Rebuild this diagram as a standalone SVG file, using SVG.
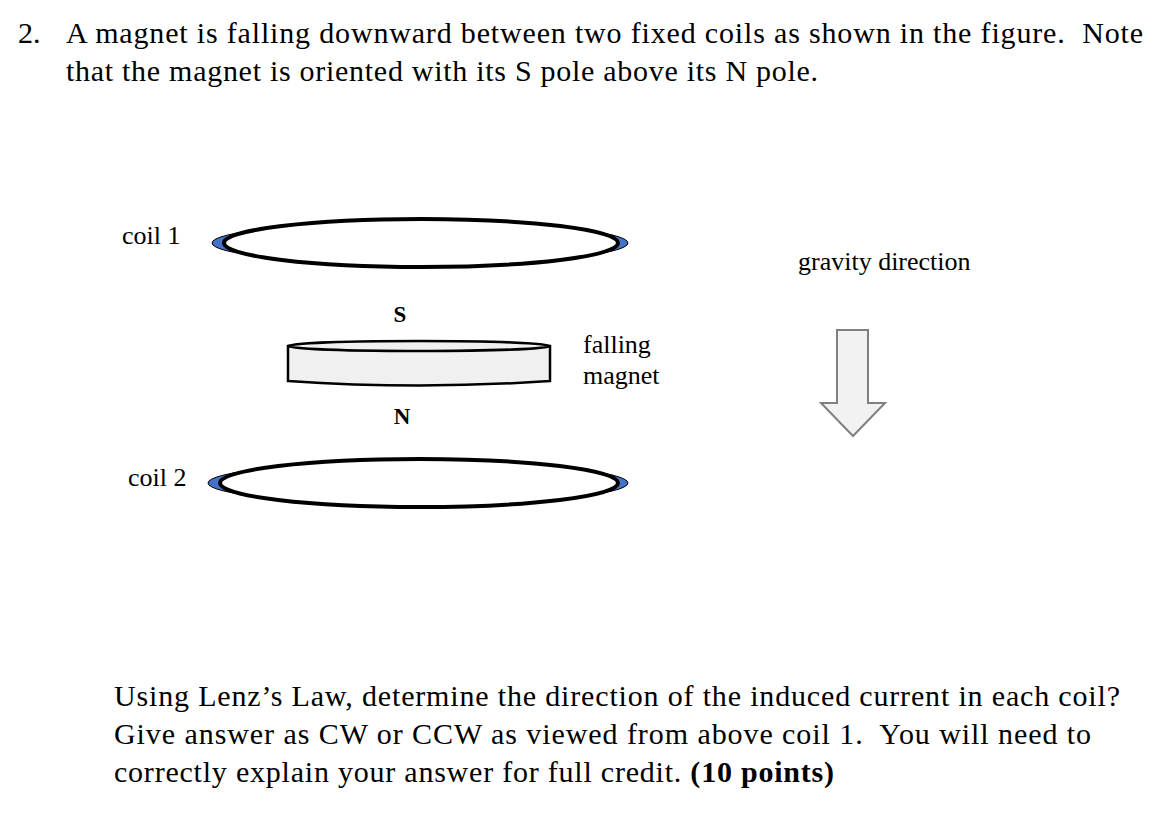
<svg xmlns="http://www.w3.org/2000/svg" width="1160" height="814" viewBox="0 0 1160 814">
<style>
text{font-family:"Liberation Serif",serif;fill:#000;white-space:pre}
.big{font-size:30px}
.sm{font-size:26px}
.blue{fill:#4472c4;stroke:#000;stroke-width:1}
.coil{fill:#fff;stroke:#000;stroke-width:4}
</style>
<rect width="1160" height="814" fill="#fff"/>
<text class="big" x="18" y="43">2.</text>
<text class="big" x="66" y="43" textLength="1077" lengthAdjust="spacing">A magnet is falling downward between two fixed coils as shown in the figure.  Note</text>
<text class="big" x="66" y="81" textLength="752" lengthAdjust="spacing">that the magnet is oriented with its S pole above its N pole.</text>
<g id="coil1">
<ellipse class="blue" cx="420" cy="243" rx="208" ry="21"/>
<ellipse class="coil" cx="421" cy="243" rx="197" ry="24"/>
<text class="sm" x="122" y="244">coil 1</text>
</g>
<g id="coil2">
<ellipse class="blue" cx="418" cy="483" rx="210" ry="21"/>
<ellipse class="coil" cx="419" cy="483" rx="199" ry="24"/>
<text class="sm" x="128" y="486">coil 2</text>
</g>
<g id="magnet">
<path d="M288,346 L288,381 Q420,390 550,381 L550,346 Z" fill="#f0f0f0" stroke="#000" stroke-width="2.5"/>
<ellipse cx="419" cy="346" rx="131" ry="5" fill="#f0f0f0" stroke="#000" stroke-width="2.5"/>
<text x="400" y="322" font-size="23" font-weight="bold" text-anchor="middle">S</text>
<text x="402" y="424" font-size="23" font-weight="bold" text-anchor="middle">N</text>
<text class="sm" x="583" y="353">falling</text>
<text class="sm" x="583" y="384">magnet</text>
</g>
<g id="gravity">
<text class="sm" x="798" y="270">gravity direction</text>
<path d="M837,330 L868,330 L868,403 L885,403 L853,436 L821,403 L837,403 Z" fill="#f2f2f2" stroke="#808080" stroke-width="2"/>
</g>
<g id="connectors"/>
<text class="big" x="114" y="706" textLength="1006" lengthAdjust="spacing">Using Lenz’s Law, determine the direction of the induced current in each coil?</text>
<text class="big" x="114" y="744" textLength="977" lengthAdjust="spacing">Give answer as CW or CCW as viewed from above coil 1.  You will need to</text>
<text class="big" x="114" y="782" textLength="720" lengthAdjust="spacing">correctly explain your answer for full credit. <tspan font-weight="bold">(10 points)</tspan></text>
</svg>
